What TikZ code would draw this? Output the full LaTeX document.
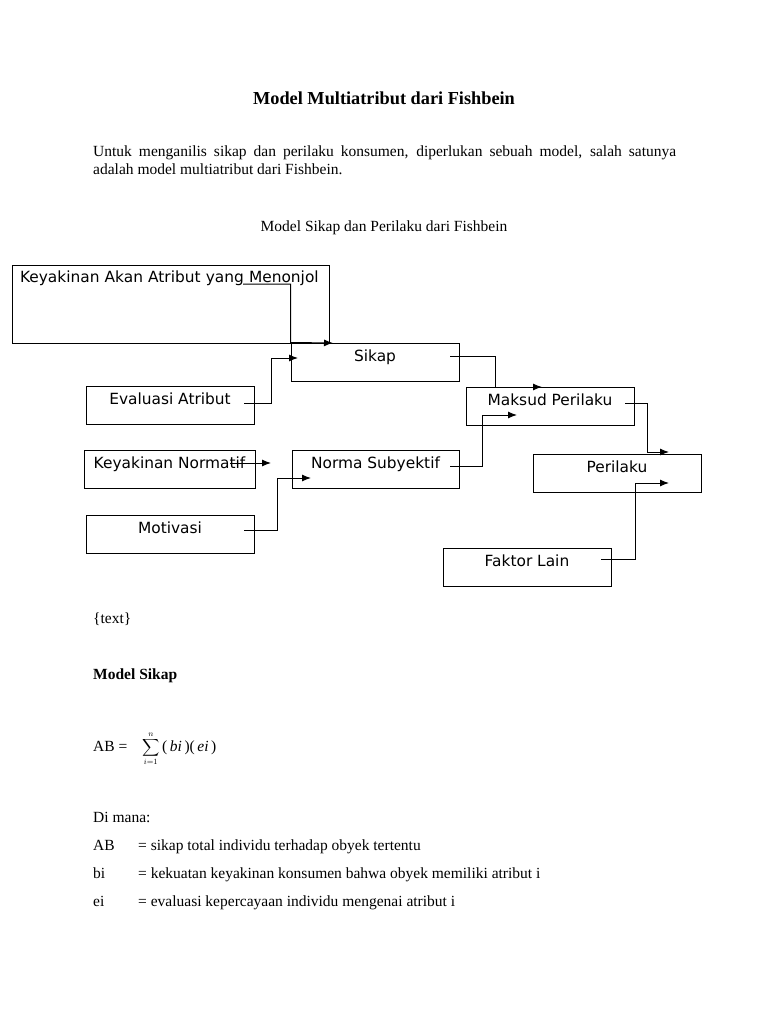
\documentclass[tikz,border=0pt]{standalone}
\usepackage{amsmath}
\usepackage{fontspec}
\setmainfont{Liberation Serif}
\newfontfamily\boxfont{DejaVu Sans}
\usetikzlibrary{arrows.meta}

\tikzset{
  box/.style={draw,line width=1pt,inner sep=0pt,minimum height=38pt,
    text height=18.5pt,text depth=19.5pt,font=\boxfont\fontsize{15.4}{18}\selectfont},
  body/.style={inner sep=0pt,anchor=base west,font=\fontsize{15.5}{18}\selectfont},
  link/.style={line width=1pt,-{Latex[length=9pt,width=7pt]}}
}

\begin{document}
\begin{tikzpicture}[x=1pt,y=-1pt]
\useasboundingbox (0,0) rectangle (768,1024);

%%% page text %%%
  \node (Title) at (384,98) [font=\bfseries\fontsize{18.3}{22}\selectfont] {Model Multiatribut dari Fishbein};
  \node (Intro) at (93,146) [anchor=north west,inner sep=0pt,text width=583pt,align=justify,
    font=\fontsize{15.5}{18}\selectfont]
    {Untuk menganilis sikap dan perilaku konsumen, diperlukan sebuah model, salah satunya\linebreak
     adalah model multiatribut dari Fishbein.};
  \node (Caption) at (384,228) [font=\fontsize{15.5}{18}\selectfont] {Model Sikap dan Perilaku dari Fishbein};

%%% boxes %%%
  \node (Yakin) at (170.5,304) [box,text width=301pt,inner xsep=8pt,align=left,
    text height=17.5pt,text depth=60.5pt] {Keyakinan Akan Atribut yang Menonjol};
  \node (Sikap) at (375,362) [box,minimum width=168pt] {Sikap};
  \node (Eval) at (170,405) [box,minimum width=168pt] {Evaluasi Atribut};
  \node (Normatif) at (169.5,469) [box,minimum width=171pt] {Keyakinan Normatif};
  \node (Motivasi) at (170,534) [box,minimum width=168pt] {Motivasi};
  \node (Norma) at (375.5,469) [box,minimum width=167pt] {Norma Subyektif};
  \node (Maksud) at (550,406) [box,minimum width=168pt] {Maksud Perilaku};
  \node (Perilaku) at (617,473) [box,minimum width=168pt] {Perilaku};
  \node (Faktor) at (527,567) [box,minimum width=168pt] {Faktor Lain};

%%% connector ends %%%
  \coordinate (yakinOut) at (243,284);
  \coordinate (sikapIn1) at (333,343);
  \coordinate (evalOut) at (244,403);
  \coordinate (sikapIn2) at (298,358);
  \coordinate (normatifOut) at (230,463);
  \coordinate (normaIn1) at (271,463);
  \coordinate (motivasiOut) at (244,530);
  \coordinate (normaIn2) at (311,478);
  \coordinate (sikapOut) at (450,356);
  \coordinate (maksudIn1) at (542,387);
  \coordinate (normaOut) at (450,466);
  \coordinate (maksudIn2) at (517,415);
  \coordinate (maksudOut) at (625,403);
  \coordinate (perilakuIn1) at (669,452);
  \coordinate (faktorOut) at (601,559);
  \coordinate (perilakuIn2) at (669,483);

\draw[link] (yakinOut) -| (Sikap.north west) -- (sikapIn1);
\draw[link] (evalOut) -- ++(27,0) |- (sikapIn2);
\draw[link] (normatifOut) -- (normaIn1);
\draw[link] (motivasiOut) -- ++(33,0) |- (normaIn2);
\draw[link] (sikapOut) -- ++(45,0) |- (maksudIn1);
\draw[link] (normaOut) -- ++(32,0) |- (maksudIn2);
\draw[link] (maksudOut) -- ++(22,0) |- (perilakuIn1);
\draw[link] (faktorOut) -- ++(34,0) |- (perilakuIn2);

%%% formula and notes %%%
  \node (Text) at (93,623) [body] {\{text\}};
  \node (SubHead) at (93,679) [body,font=\bfseries\fontsize{15.5}{18}\selectfont] {Model Sikap};
  \node (AB) at (93,751) [body] {AB =};
  \node (Sum) at (142,751) [body]
    {{\fontsize{12}{14}\selectfont$\displaystyle\sum_{i=1}^{n}$}\,(\,\textit{bi}\,)(\,\textit{ei}\,)};
  \node (DiMana) at (93,822) [body] {Di mana:};
  \node (KeyAB) at (93,850) [body] {AB};
  \node (DefAB) at (138,850) [body] {= sikap total individu terhadap obyek tertentu};
  \node (KeyBi) at (93,878) [body] {bi};
  \node (DefBi) at (138,878) [body] {= kekuatan keyakinan konsumen bahwa obyek memiliki atribut i};
  \node (KeyEi) at (93,906) [body] {ei};
  \node (DefEi) at (138,906) [body] {= evaluasi kepercayaan individu mengenai atribut i};
\end{tikzpicture}
\end{document}
